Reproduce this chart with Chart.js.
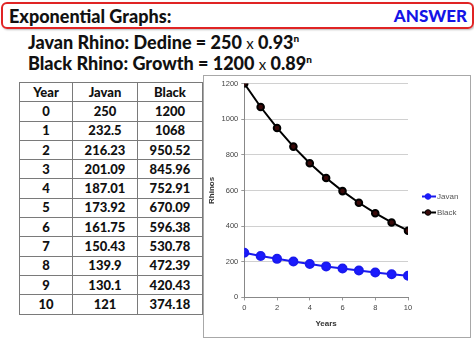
<!DOCTYPE html>
<html><head><meta charset="utf-8">
<script src="https://cdn.jsdelivr.net/npm/chart.js@4"></script>
<style>
html,body{margin:0;padding:0;background:#fff;width:474px;height:355px;overflow:hidden;font-family:Lato,"Open Sans",sans-serif;}
#hdr{position:absolute;left:1px;top:2px;width:469px;height:23px;border:2px solid #e02424;border-radius:6px;box-shadow:1px 1px 2px #bbb;}
#ttl{position:absolute;left:6px;top:1px;font-weight:900;font-size:18px;color:#111;line-height:22px;}
#ans{position:absolute;right:5px;top:1px;font-weight:900;font-size:17px;color:#1414e6;line-height:22px;}
.f{position:absolute;left:28px;font-weight:900;font-size:18px;color:#111;line-height:20px;white-space:nowrap;}
.f sup{font-size:10px;vertical-align:7px;line-height:0}
.f .x{font-weight:400;font-size:15px}
#tbl{position:absolute;left:19px;top:82px;border-collapse:collapse;}
#tbl tr{height:19.3px;}
#tbl td{border:1.5px solid #7a7a7a;text-align:center;font-weight:900;font-size:13px;color:#111;padding:0;line-height:17px;}
#box{position:absolute;left:203px;top:75px;width:266px;height:261px;border:1px solid #a8a8a8;}
</style></head><body>
<div id="hdr"><div id="ttl">Exponential Graphs:</div><div id="ans">ANSWER</div></div>
<div class="f" style="top:32px">Javan Rhino: Dedine = 250 <span class="x">x</span> 0.93<sup>n</sup></div>
<div class="f" style="top:53px">Black Rhino: Growth = 1200 <span class="x">x</span> 0.89<sup>n</sup></div>
<table id="tbl"></table>
<div id="box"><canvas id="c" width="266" height="261"></canvas></div>
<script>
const years = [0,1,2,3,4,5,6,7,8,9,10];
const javan = [250,232.5,216.23,201.09,187.01,173.92,161.75,150.43,139.9,130.1,121];
const black = [1200,1068,950.52,845.96,752.91,670.09,596.38,530.78,472.39,420.43,374.18];
const tableHeaders = ["Year","Javan","Black"];
const colWidths = [52,64,64];

// table
const tbl = document.getElementById('tbl');
let tr = document.createElement('tr');
tableHeaders.forEach((h,i)=>{const td=document.createElement('td');td.textContent=h;td.style.width=colWidths[i]+'px';tr.appendChild(td);});
tbl.appendChild(tr);
years.forEach((y,i)=>{
  const r=document.createElement('tr');
  [y,javan[i],black[i]].forEach(v=>{const td=document.createElement('td');td.textContent=String(v);r.appendChild(td);});
  tbl.appendChild(r);
});

const legendPlugin = {
  id:'xlLegend',
  afterDraw(chart){
    const ctx=chart.ctx; const area=chart.chartArea;
    const x0=area.right+14, ys=[area.top+113, area.top+129];
    chart.data.datasets.forEach((ds,i)=>{
      const y=ys[i];
      ctx.save();
      ctx.strokeStyle=ds.borderColor; ctx.lineWidth=2;
      ctx.beginPath(); ctx.moveTo(x0,y); ctx.lineTo(x0+14,y); ctx.stroke();
      ctx.fillStyle=ds.pointBackgroundColor; ctx.strokeStyle=ds.pointBorderColor; ctx.lineWidth=1;
      ctx.beginPath(); ctx.arc(x0+6,y,2.8,0,Math.PI*2); ctx.fill(); ctx.stroke();
      ctx.fillStyle='#555'; ctx.font='8px "Liberation Sans", Arial'; ctx.textBaseline='middle';
      ctx.fillText(ds.label,x0+15,y);
      ctx.restore();
    });
  }
};

const fnt = '"Liberation Sans", Arial';
new Chart(document.getElementById('c'),{
  type:'line',
  data:{datasets:[
    {label:'Javan',data:years.map((x,i)=>({x,y:javan[i]})),borderColor:'#1a1aee',backgroundColor:'#1a1aee',pointBackgroundColor:'#1a1aff',pointBorderColor:'#1a1aee',pointRadius:4,borderWidth:2,tension:0},
    {label:'Black',data:years.map((x,i)=>({x,y:black[i]})),borderColor:'#000',backgroundColor:'#000',pointBackgroundColor:'#3a0a0a',pointBorderColor:'#000',pointRadius:3.3,borderWidth:2,tension:0}
  ]},
  options:{
    responsive:false,animation:false,
    layout:{padding:{left:3,right:62,top:5,bottom:8}},
    plugins:{legend:{display:false},tooltip:{enabled:false}},
    scales:{
      x:{type:'linear',min:0,max:10,
        ticks:{stepSize:2,color:'#444',font:{size:7.5,family:fnt},padding:3},
        grid:{display:true,drawOnChartArea:false,drawTicks:true,tickLength:3,tickColor:'#999'},
        border:{color:'#888'},
        title:{display:true,text:'Years',color:'#333',font:{size:8,weight:'bold',family:fnt},padding:{top:4,bottom:0}}},
      y:{min:0,max:1200,
        ticks:{stepSize:200,color:'#444',font:{size:7.5,family:fnt},padding:3,callback:v=>String(v)},
        grid:{color:'#d0d0d0',drawTicks:true,tickLength:3,tickColor:'#999'},
        border:{color:'#888'},
        title:{display:true,text:'Rhinos',color:'#333',font:{size:8,weight:'bold',family:fnt},padding:{top:0,bottom:2}}}
    }
  },
  plugins:[legendPlugin]
});
</script>
</body></html>
